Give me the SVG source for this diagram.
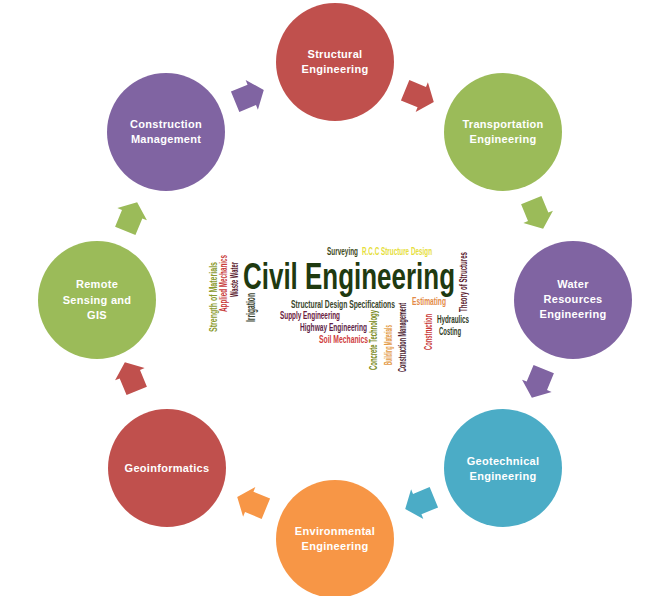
<svg xmlns="http://www.w3.org/2000/svg" width="662" height="596" viewBox="0 0 662 596">
<defs>
<style>
.lbl{font-family:"Liberation Sans",Arial,sans-serif;font-weight:bold;font-size:11px;fill:#ffffff;text-anchor:middle;letter-spacing:0.3px}
.w{font-family:"Liberation Sans",Arial,sans-serif;font-weight:bold}
.red{fill:#c0504d}.green{fill:#9bbb59}.purple{fill:#8064a2}.blue{fill:#4bacc6}.orange{fill:#f79646}
</style>
<path id="arr" d="M-15,-11 L3,-11 L3,-16 L16,0 L3,16 L3,11 L-15,11 Z"/>
</defs>
<rect width="662" height="596" fill="#ffffff"/>
<g id="connectors">
<use href="#arr" class="purple" transform="translate(249,96) rotate(-22.5)"/>
<use href="#arr" class="red" transform="translate(419,96) rotate(22.5)"/>
<use href="#arr" class="green" transform="translate(537,214) rotate(67.5)"/>
<use href="#arr" class="purple" transform="translate(538,383) rotate(112.5)"/>
<use href="#arr" class="blue" transform="translate(420,503) rotate(157.5)"/>
<use href="#arr" class="orange" transform="translate(252,503) rotate(202.5)"/>
<use href="#arr" class="red" transform="translate(131,377) rotate(247.5)"/>
<use href="#arr" class="green" transform="translate(131,217) rotate(292.5)"/>
</g>
<g id="structural"><circle cx="335" cy="62" r="59" class="red"/><text class="lbl" x="335" y="58">Structural</text><text class="lbl" x="335" y="73">Engineering</text></g>
<g id="transportation"><circle cx="503" cy="132" r="59" class="green"/><text class="lbl" x="503" y="128">Transportation</text><text class="lbl" x="503" y="143">Engineering</text></g>
<g id="water"><circle cx="573" cy="300" r="59" class="purple"/><text class="lbl" x="573" y="288">Water</text><text class="lbl" x="573" y="303">Resources</text><text class="lbl" x="573" y="318">Engineering</text></g>
<g id="geotechnical"><circle cx="503" cy="468" r="59" class="blue"/><text class="lbl" x="503" y="465">Geotechnical</text><text class="lbl" x="503" y="480">Engineering</text></g>
<g id="environmental"><circle cx="335" cy="539" r="59" class="orange"/><text class="lbl" x="335" y="535">Environmental</text><text class="lbl" x="335" y="550">Engineering</text></g>
<g id="geoinformatics"><circle cx="167" cy="468" r="59" class="red"/><text class="lbl" x="167" y="472">Geoinformatics</text></g>
<g id="remote"><circle cx="97" cy="300" r="59" class="green"/><text class="lbl" x="97" y="288">Remote</text><text class="lbl" x="97" y="304">Sensing and</text><text class="lbl" x="97" y="319">GIS</text></g>
<g id="construction"><circle cx="166" cy="132" r="59" class="purple"/><text class="lbl" x="166" y="128">Construction</text><text class="lbl" x="166" y="143">Management</text></g>
<g id="wordcloud">
<text class="w" x="327" y="255" font-size="10" fill="#3e4a22" textLength="31" lengthAdjust="spacingAndGlyphs">Surveying</text>
<text class="w" x="362" y="255" font-size="10" fill="#e6de3a" textLength="70" lengthAdjust="spacingAndGlyphs">R.C.C Structure Design</text>
<text class="w" x="243" y="289" font-size="36" fill="#1f3a10" textLength="212" lengthAdjust="spacingAndGlyphs">Civil Engineering</text>
<text class="w" font-size="11" fill="#5a1a2e" textLength="60" lengthAdjust="spacingAndGlyphs" transform="translate(467,312) rotate(-90)">Theory of Structures</text>
<text class="w" font-size="11" fill="#8a9a2e" textLength="70" lengthAdjust="spacingAndGlyphs" transform="translate(217,332) rotate(-90)">Strength of Materials</text>
<text class="w" font-size="11" fill="#c83a3a" textLength="57" lengthAdjust="spacingAndGlyphs" transform="translate(227,312) rotate(-90)">Applied Mechanics</text>
<text class="w" font-size="11" fill="#5a1a2e" textLength="35" lengthAdjust="spacingAndGlyphs" transform="translate(238,297) rotate(-90)">Waste Water</text>
<text class="w" font-size="12" fill="#3a4432" textLength="29" lengthAdjust="spacingAndGlyphs" transform="translate(255,322) rotate(-90)">Irrigation</text>
<text class="w" x="291" y="308" font-size="11" fill="#38452a" textLength="104" lengthAdjust="spacingAndGlyphs">Structural Design Specifications</text>
<text class="w" x="280" y="319" font-size="11" fill="#6a2040" textLength="60" lengthAdjust="spacingAndGlyphs">Supply Engineering</text>
<text class="w" x="300" y="331" font-size="11" fill="#5e1f48" textLength="67" lengthAdjust="spacingAndGlyphs">Highway Engineering</text>
<text class="w" x="319" y="343" font-size="11" fill="#d04040" textLength="49" lengthAdjust="spacingAndGlyphs">Soil Mechanics</text>
<text class="w" font-size="11" fill="#7a8a22" textLength="60" lengthAdjust="spacingAndGlyphs" transform="translate(377,370) rotate(-90)">Concrete Technology</text>
<text class="w" font-size="11" fill="#e39a46" textLength="40" lengthAdjust="spacingAndGlyphs" transform="translate(392,365) rotate(-90)">Building Materials</text>
<text class="w" font-size="11" fill="#4a1a30" textLength="69" lengthAdjust="spacingAndGlyphs" transform="translate(406,372) rotate(-90)">Construction Management</text>
<text class="w" x="412" y="305" font-size="11" fill="#e38a46" textLength="34" lengthAdjust="spacingAndGlyphs">Estimating</text>
<text class="w" font-size="11" fill="#c83a3a" textLength="36" lengthAdjust="spacingAndGlyphs" transform="translate(432,350) rotate(-90)">Construction</text>
<text class="w" x="437" y="323" font-size="11" fill="#2e3a1e" textLength="32" lengthAdjust="spacingAndGlyphs">Hydraulics</text>
<text class="w" x="439" y="335" font-size="11" fill="#2e3a1e" textLength="22" lengthAdjust="spacingAndGlyphs">Costing</text>
</g>
</svg>
